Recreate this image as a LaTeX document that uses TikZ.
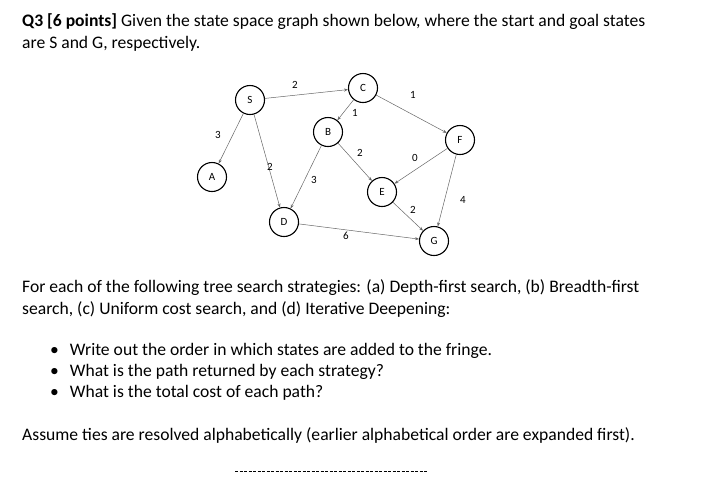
\documentclass[tikz,border=0pt]{standalone}
\usepackage{fontspec}
\setmainfont{Carlito}
\usetikzlibrary{arrows.meta}
\begin{document}
\begin{tikzpicture}[x=1pt,y=-1pt,
  st/.style={circle,draw,line width=1.1pt,minimum size=29pt,inner sep=0pt,font=\fontsize{11}{12}\selectfont},
  ed/.style={draw=gray!80!black,line width=0.5pt,-{Stealth[length=4pt,width=3pt]}},
  lb/.style={font=\fontsize{11}{12}\selectfont,inner sep=0pt},
  tx/.style={anchor=base west,inner sep=0pt,font=\fontsize{17.6}{20}\selectfont}]
\useasboundingbox (0,0) rectangle (703,483);
\node[st] (S) at (250,100) {S};
\node[st] (C) at (363,88) {C};
\node[st] (B) at (328,132) {B};
\node[st] (F) at (460,140) {F};
\node[st] (A) at (212,177) {A};
\node[st] (E) at (382,192) {E};
\node[st] (D) at (284,222) {D};
\node[st] (G) at (434,241) {G};
\draw[ed] (S) -- (C); \draw[ed] (C) -- (F); \draw[ed] (C) -- (B);
\draw[ed] (S) -- (A); \draw[ed] (S) -- (D); \draw[ed] (B) -- (D);
\draw[ed] (B) -- (E); \draw[ed] (F) -- (E); \draw[ed] (F) -- (G);
\draw[ed] (E) -- (G); \draw[ed] (D) -- (G);
\node[lb] (l1) at (295,85) {2}; \node[lb] (l2) at (413,95) {1};
\node[lb] (l3) at (355,113) {1}; \node[lb] (l4) at (218,135) {3};
\node[lb] (l5) at (270,167) {2}; \node[lb] (l6) at (314,180) {3};
\node[lb] (l7) at (360,153) {2}; \node[lb] (l8) at (415,158) {0};
\node[lb] (l9) at (463,200) {4}; \node[lb] (l10) at (413,210) {2};
\node[lb] (l11) at (346,236) {6};
\node[tx] (t1) at (22,26) {\textbf{Q3 [6 points]} Given the state space graph shown below, where the start and goal states};
\node[tx] (t2) at (22,48) {are S and G, respectively.};
\node[tx] (t3) at (22,292) {For each of the following tree search strategies: (a) Depth-first search, (b) Breadth-first};
\node[tx] (t4) at (22,314) {search, (c) Uniform cost search, and (d) Iterative Deepening:};
\node[tx] (b1) at (50,355) {\textbullet\hspace{11pt}Write out the order in which states are added to the fringe.};
\node[tx] (b2) at (50,376) {\textbullet\hspace{11pt}What is the path returned by each strategy?};
\node[tx] (b3) at (50,397) {\textbullet\hspace{11pt}What is the total cost of each path?};
\node[tx] (t5) at (22,440) {Assume ties are resolved alphabetically (earlier alphabetical order are expanded first).};
\coordinate (d1) at (235,471); \coordinate (d2) at (428,471);
\draw[dash pattern=on 3pt off 1.5pt,line width=0.5pt] (d1) -- (d2);
\end{tikzpicture}
\end{document}
